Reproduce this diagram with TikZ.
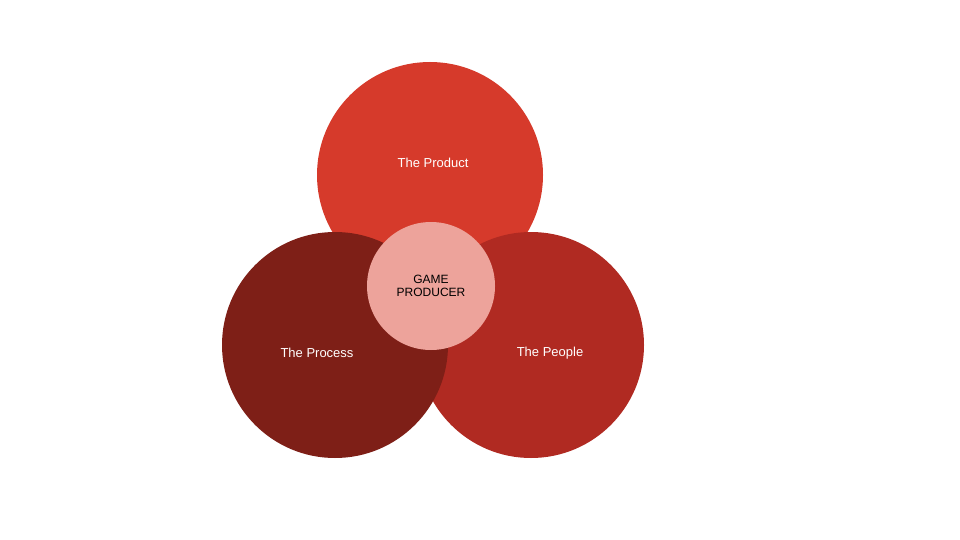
\documentclass[tikz,border=0pt]{standalone}
\usepackage{fontspec}
\setmainfont{Liberation Sans}
\definecolor{prodc}{HTML}{D63A2B}
\definecolor{procc}{HTML}{7E1F17}
\definecolor{peopc}{HTML}{B02A22}
\definecolor{gamec}{HTML}{EDA39B}
\begin{document}
\begin{tikzpicture}[x=1pt,y=-1pt,
  bigc/.style={circle,minimum size=226pt,inner sep=0pt,draw=none},
  lbl/.style={text=white,font=\fontsize{13}{15}\selectfont,inner sep=0pt},
  centc/.style={circle,minimum size=128pt,inner sep=0pt,fill=gamec,draw=none,align=center,font=\fontsize{12}{13.5}\selectfont}]
\useasboundingbox[fill=white] (0,0) rectangle (960,540);
\node[bigc,fill=prodc] (product) at (430,175) {};
\node[bigc,fill=peopc] (people) at (531,345) {};
\node[bigc,fill=procc] (process) at (335,345) {};
\node[centc] (game) at (431,286) {GAME\\PRODUCER};
\node[lbl] (tproduct) at (433,163) {The Product};
\node[lbl] (tprocess) at (317,353) {The Process};
\node[lbl] (tpeople) at (550,353) {The People};
\end{tikzpicture}
\end{document}
